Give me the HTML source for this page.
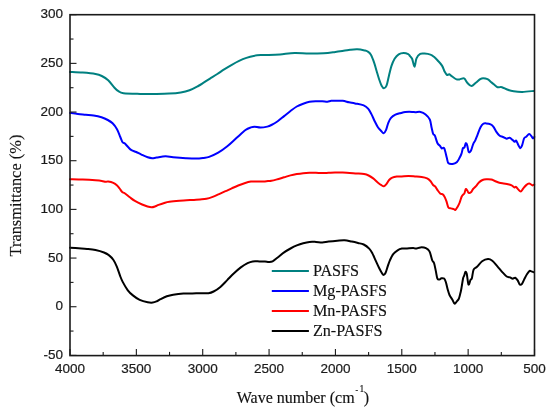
<!DOCTYPE html>
<html><head><meta charset="utf-8"><style>
html,body{margin:0;padding:0;background:#fff;}
body{width:550px;height:412px;overflow:hidden;}
svg{display:block;}
.sans{font-family:"Liberation Sans",Arial,sans-serif;font-size:13.5px;fill:#1a1a1a;stroke:#1a1a1a;stroke-width:0.2px;}
.serif{font-family:"Liberation Serif","Times New Roman",serif;fill:#111;}
text.serif,.serif text{stroke:#111;stroke-width:0.15px;}
</style></head><body>
<svg width="550" height="412" viewBox="0 0 550 412">
<g fill="none" stroke-width="2" stroke-linejoin="round" stroke-linecap="round">
<path d="M70.00 72.00 C72.12 72.10 78.45 72.27 82.70 72.60 C86.95 72.93 92.32 73.43 95.50 74.00 C98.68 74.57 99.68 74.97 101.80 76.00 C103.92 77.03 106.08 78.25 108.20 80.20 C110.32 82.15 112.80 85.87 114.50 87.70 C116.20 89.53 116.90 90.27 118.40 91.20 C119.90 92.13 119.90 92.85 123.50 93.30 C127.10 93.75 134.82 93.80 140.00 93.90 C145.18 94.00 149.75 93.95 154.60 93.90 C159.45 93.85 164.73 93.83 169.10 93.60 C173.47 93.37 177.40 93.05 180.80 92.50 C184.20 91.95 186.60 91.38 189.50 90.30 C192.40 89.22 195.78 87.32 198.20 86.00 C200.62 84.68 202.03 83.63 204.00 82.40 C205.97 81.17 207.78 80.00 210.00 78.60 C212.22 77.20 214.87 75.57 217.30 74.00 C219.73 72.43 222.18 70.73 224.60 69.20 C227.02 67.67 229.38 66.18 231.80 64.80 C234.22 63.42 236.67 62.05 239.10 60.90 C241.53 59.75 243.97 58.73 246.40 57.90 C248.83 57.07 251.28 56.37 253.70 55.90 C256.12 55.43 258.48 55.25 260.90 55.10 C263.32 54.95 265.02 55.12 268.20 55.00 C271.38 54.88 275.60 54.73 280.00 54.40 C284.40 54.07 289.75 53.13 294.60 53.00 C299.45 52.87 304.25 53.57 309.10 53.60 C313.95 53.63 319.33 53.48 323.70 53.20 C328.07 52.92 330.92 52.47 335.30 51.90 C339.68 51.33 346.33 50.23 350.00 49.80 C353.67 49.37 354.87 49.20 357.30 49.30 C359.73 49.40 362.88 50.03 364.60 50.40 C366.32 50.77 366.55 50.77 367.60 51.50 C368.65 52.23 369.80 52.92 370.90 54.80 C372.00 56.68 373.25 60.10 374.20 62.80 C375.15 65.50 375.78 68.27 376.60 71.00 C377.42 73.73 378.27 76.75 379.10 79.20 C379.93 81.65 380.78 84.20 381.60 85.70 C382.42 87.20 383.18 88.20 384.00 88.20 C384.82 88.20 385.68 87.75 386.50 85.70 C387.32 83.65 388.08 79.17 388.90 75.90 C389.72 72.63 390.45 68.97 391.40 66.10 C392.35 63.23 393.38 60.67 394.60 58.70 C395.82 56.73 397.20 55.25 398.70 54.30 C400.20 53.35 402.02 53.03 403.60 53.00 C405.18 52.97 407.13 53.58 408.20 54.10 C409.27 54.62 409.33 55.28 410.00 56.10 C410.67 56.92 411.45 57.22 412.20 59.00 C412.95 60.78 413.78 66.92 414.50 66.80 C415.22 66.68 415.55 60.45 416.50 58.30 C417.45 56.15 418.85 54.68 420.20 53.90 C421.55 53.12 422.90 53.48 424.60 53.60 C426.30 53.72 428.83 54.07 430.40 54.60 C431.97 55.13 432.78 55.82 434.00 56.80 C435.22 57.78 436.37 59.03 437.70 60.50 C439.03 61.97 440.80 63.67 442.00 65.60 C443.20 67.53 444.05 70.53 444.90 72.10 C445.75 73.67 446.37 74.63 447.10 75.00 C447.83 75.37 448.45 74.05 449.30 74.30 C450.15 74.55 450.98 75.65 452.20 76.50 C453.42 77.35 455.38 78.92 456.60 79.40 C457.82 79.88 458.53 79.55 459.50 79.40 C460.47 79.25 461.55 78.62 462.40 78.50 C463.25 78.38 463.75 77.95 464.60 78.70 C465.45 79.45 466.35 81.78 467.50 83.00 C468.65 84.22 470.12 86.03 471.50 86.00 C472.88 85.97 474.35 83.93 475.80 82.80 C477.25 81.67 478.98 79.97 480.20 79.20 C481.42 78.43 481.88 78.20 483.10 78.20 C484.32 78.20 486.05 78.47 487.50 79.20 C488.95 79.93 490.23 81.32 491.80 82.60 C493.37 83.88 495.68 86.13 496.90 86.90 C498.12 87.67 498.25 87.15 499.10 87.20 C499.95 87.25 500.55 86.77 502.00 87.20 C503.45 87.63 505.85 89.12 507.80 89.80 C509.75 90.48 511.27 90.95 513.70 91.30 C516.13 91.65 519.02 91.97 522.40 91.90 C525.78 91.83 532.07 91.07 534.00 90.90" stroke="#008080"/>
<path d="M70.00 112.90 C71.32 113.07 75.27 113.60 77.90 113.90 C80.53 114.20 83.18 114.43 85.80 114.70 C88.42 114.97 90.98 115.07 93.60 115.50 C96.22 115.93 99.13 116.55 101.50 117.30 C103.87 118.05 105.95 119.00 107.80 120.00 C109.65 121.00 111.07 121.77 112.60 123.30 C114.13 124.83 115.72 126.92 117.00 129.20 C118.28 131.48 119.37 134.82 120.30 137.00 C121.23 139.18 121.83 141.20 122.60 142.30 C123.37 143.40 123.95 142.77 124.90 143.60 C125.85 144.43 127.20 146.22 128.30 147.30 C129.40 148.38 130.18 149.32 131.50 150.10 C132.82 150.88 134.55 151.25 136.20 152.00 C137.85 152.75 139.48 153.72 141.40 154.60 C143.32 155.48 145.90 156.70 147.70 157.30 C149.50 157.90 150.72 158.17 152.20 158.20 C153.68 158.23 154.38 157.82 156.60 157.50 C158.82 157.18 162.73 156.35 165.50 156.30 C168.27 156.25 169.80 156.88 173.20 157.20 C176.60 157.52 182.08 157.97 185.90 158.20 C189.72 158.43 193.13 158.65 196.10 158.60 C199.07 158.55 201.53 158.18 203.70 157.90 C205.87 157.62 206.68 157.77 209.10 156.90 C211.52 156.03 215.17 154.47 218.20 152.70 C221.23 150.93 224.27 148.73 227.30 146.30 C230.33 143.87 233.37 140.82 236.40 138.10 C239.43 135.38 243.08 131.78 245.50 130.00 C247.92 128.22 249.40 127.95 250.90 127.40 C252.40 126.85 252.90 126.67 254.50 126.70 C256.10 126.73 258.37 127.62 260.50 127.60 C262.63 127.58 265.48 127.03 267.30 126.60 C269.12 126.17 269.67 125.90 271.40 125.00 C273.13 124.10 275.58 122.68 277.70 121.20 C279.82 119.72 281.97 117.80 284.10 116.10 C286.23 114.40 288.38 112.60 290.50 111.00 C292.62 109.40 294.68 107.72 296.80 106.50 C298.92 105.28 301.08 104.48 303.20 103.70 C305.32 102.92 307.38 102.22 309.50 101.80 C311.62 101.38 313.77 101.30 315.90 101.20 C318.03 101.10 320.38 101.12 322.30 101.20 C324.22 101.28 325.92 101.77 327.40 101.70 C328.88 101.63 329.70 100.95 331.20 100.80 C332.70 100.65 334.48 100.80 336.40 100.80 C338.32 100.80 340.58 100.55 342.70 100.80 C344.82 101.05 347.05 101.87 349.10 102.30 C351.15 102.73 352.57 102.88 355.00 103.40 C357.43 103.92 361.52 104.53 363.70 105.40 C365.88 106.27 366.82 107.15 368.10 108.60 C369.38 110.05 370.30 112.00 371.40 114.10 C372.50 116.20 373.62 119.02 374.70 121.20 C375.78 123.38 376.82 125.57 377.90 127.20 C378.98 128.83 380.25 129.98 381.20 131.00 C382.15 132.02 382.78 133.48 383.60 133.30 C384.42 133.12 385.32 131.65 386.10 129.90 C386.88 128.15 387.48 124.80 388.30 122.80 C389.12 120.80 389.82 119.25 391.00 117.90 C392.18 116.55 393.75 115.52 395.40 114.70 C397.05 113.88 399.27 113.45 400.90 113.00 C402.53 112.55 403.35 112.18 405.20 112.00 C407.05 111.82 410.30 111.87 412.00 111.90 C413.70 111.93 413.98 112.20 415.40 112.20 C416.82 112.20 418.80 111.53 420.50 111.90 C422.20 112.27 424.05 113.13 425.60 114.40 C427.15 115.67 428.82 117.37 429.80 119.50 C430.78 121.63 430.93 124.78 431.50 127.20 C432.07 129.62 432.63 132.58 433.20 134.00 C433.77 135.42 434.18 134.15 434.90 135.70 C435.62 137.25 436.65 141.60 437.50 143.30 C438.35 145.00 439.30 145.05 440.00 145.90 C440.70 146.75 440.98 147.98 441.70 148.40 C442.42 148.82 443.45 146.83 444.30 148.40 C445.15 149.97 446.10 155.33 446.80 157.80 C447.50 160.27 447.37 162.22 448.50 163.20 C449.63 164.18 452.18 163.90 453.60 163.70 C455.02 163.50 456.00 162.98 457.00 162.00 C458.00 161.02 458.85 159.18 459.60 157.80 C460.35 156.42 460.95 155.30 461.50 153.70 C462.05 152.10 462.42 149.22 462.90 148.20 C463.38 147.18 463.92 148.43 464.40 147.60 C464.88 146.77 465.32 143.52 465.80 143.20 C466.28 142.88 466.82 144.23 467.30 145.70 C467.78 147.17 468.10 151.15 468.70 152.00 C469.30 152.85 470.17 152.08 470.90 150.80 C471.63 149.52 472.37 146.05 473.10 144.30 C473.83 142.55 474.57 141.88 475.30 140.30 C476.03 138.72 476.65 136.93 477.50 134.80 C478.35 132.67 479.43 129.33 480.40 127.50 C481.37 125.67 482.33 124.48 483.30 123.80 C484.27 123.12 484.98 123.32 486.20 123.40 C487.42 123.48 489.38 123.73 490.60 124.30 C491.82 124.87 492.53 125.53 493.50 126.80 C494.47 128.07 495.42 130.45 496.40 131.90 C497.38 133.35 498.30 134.65 499.40 135.50 C500.50 136.35 501.80 136.47 503.00 137.00 C504.20 137.53 505.50 138.58 506.60 138.70 C507.70 138.82 508.62 137.50 509.60 137.70 C510.58 137.90 511.65 139.22 512.50 139.90 C513.35 140.58 514.10 141.68 514.70 141.80 C515.30 141.92 515.50 140.07 516.10 140.60 C516.70 141.13 517.62 143.73 518.30 145.00 C518.98 146.27 519.58 148.08 520.20 148.20 C520.82 148.32 521.35 147.33 522.00 145.70 C522.65 144.07 523.38 139.90 524.10 138.40 C524.82 136.90 525.45 137.42 526.30 136.70 C527.15 135.98 528.35 134.18 529.20 134.10 C530.05 134.02 530.78 135.48 531.40 136.20 C532.02 136.92 532.42 138.27 532.90 138.40 C533.38 138.53 534.07 137.23 534.30 137.00" stroke="#0000ff"/>
<path d="M70.00 179.30 C72.12 179.35 78.45 179.43 82.70 179.60 C86.95 179.77 92.32 180.08 95.50 180.30 C98.68 180.52 100.12 180.65 101.80 180.90 C103.48 181.15 104.53 181.70 105.60 181.80 C106.67 181.90 106.92 181.33 108.20 181.50 C109.48 181.67 111.82 182.15 113.30 182.80 C114.78 183.45 116.05 184.45 117.10 185.40 C118.15 186.35 118.75 187.40 119.60 188.50 C120.45 189.60 121.35 191.20 122.20 192.00 C123.05 192.80 123.43 192.42 124.70 193.30 C125.97 194.18 128.10 196.03 129.80 197.30 C131.50 198.57 132.85 199.70 134.90 200.90 C136.95 202.10 140.00 203.57 142.10 204.50 C144.20 205.43 145.92 206.03 147.50 206.50 C149.08 206.97 150.27 207.33 151.60 207.30 C152.93 207.27 154.33 206.70 155.50 206.30 C156.67 205.90 157.02 205.50 158.60 204.90 C160.18 204.30 163.20 203.22 165.00 202.70 C166.80 202.18 166.98 202.12 169.40 201.80 C171.82 201.48 175.68 201.12 179.50 200.80 C183.32 200.48 188.88 200.13 192.30 199.90 C195.72 199.67 197.65 199.58 200.00 199.40 C202.35 199.22 204.28 199.22 206.40 198.80 C208.52 198.38 210.58 197.68 212.70 196.90 C214.82 196.12 216.97 195.05 219.10 194.10 C221.23 193.15 223.38 192.17 225.50 191.20 C227.62 190.23 229.68 189.25 231.80 188.30 C233.92 187.35 236.08 186.35 238.20 185.50 C240.32 184.65 242.38 183.85 244.50 183.20 C246.62 182.55 248.77 181.90 250.90 181.60 C253.03 181.30 255.18 181.40 257.30 181.40 C259.42 181.40 261.82 181.67 263.60 181.60 C265.38 181.53 266.70 181.13 268.00 181.00 C269.30 180.87 269.78 181.10 271.40 180.80 C273.02 180.50 275.58 179.78 277.70 179.20 C279.82 178.62 281.97 177.93 284.10 177.30 C286.23 176.67 288.38 175.93 290.50 175.40 C292.62 174.87 294.68 174.47 296.80 174.10 C298.92 173.73 301.08 173.42 303.20 173.20 C305.32 172.98 307.38 172.87 309.50 172.80 C311.62 172.73 313.77 172.75 315.90 172.80 C318.03 172.85 320.18 173.10 322.30 173.10 C324.42 173.10 326.48 172.90 328.60 172.80 C330.72 172.70 332.65 172.55 335.00 172.50 C337.35 172.45 339.28 172.35 342.70 172.50 C346.12 172.65 351.93 173.13 355.50 173.40 C359.07 173.67 361.92 173.75 364.10 174.10 C366.28 174.45 367.08 174.78 368.60 175.50 C370.12 176.22 371.68 177.25 373.20 178.40 C374.72 179.55 376.33 181.27 377.70 182.40 C379.07 183.53 380.37 184.57 381.40 185.20 C382.43 185.83 383.07 186.38 383.90 186.20 C384.73 186.02 385.53 185.13 386.40 184.10 C387.27 183.07 388.12 181.07 389.10 180.00 C390.08 178.93 391.02 178.27 392.30 177.70 C393.58 177.13 395.23 176.82 396.80 176.60 C398.37 176.38 399.77 176.50 401.70 176.40 C403.63 176.30 406.18 176.00 408.40 176.00 C410.62 176.00 412.78 176.23 415.00 176.40 C417.22 176.57 419.68 176.67 421.70 177.00 C423.72 177.33 425.65 177.73 427.10 178.40 C428.55 179.07 429.40 179.90 430.40 181.00 C431.40 182.10 432.32 184.10 433.10 185.00 C433.88 185.90 434.33 185.50 435.10 186.40 C435.87 187.30 436.82 189.18 437.70 190.40 C438.58 191.62 439.62 193.08 440.40 193.70 C441.18 194.32 441.73 193.65 442.40 194.10 C443.07 194.55 443.73 195.23 444.40 196.40 C445.07 197.57 445.73 199.25 446.40 201.10 C447.07 202.95 447.62 206.28 448.40 207.50 C449.18 208.72 450.20 208.13 451.10 208.40 C452.00 208.67 453.08 208.87 453.80 209.10 C454.52 209.33 454.73 210.25 455.40 209.80 C456.07 209.35 457.12 207.53 457.80 206.40 C458.48 205.27 458.88 204.57 459.50 203.00 C460.12 201.43 460.93 198.37 461.50 197.00 C462.07 195.63 462.42 195.40 462.90 194.80 C463.38 194.20 463.92 194.37 464.40 193.40 C464.88 192.43 465.32 189.48 465.80 189.00 C466.28 188.52 466.82 189.85 467.30 190.50 C467.78 191.15 468.10 192.60 468.70 192.90 C469.30 193.20 470.17 192.95 470.90 192.30 C471.63 191.65 472.25 190.03 473.10 189.00 C473.95 187.97 475.03 187.18 476.00 186.10 C476.97 185.02 477.82 183.52 478.90 182.50 C479.98 181.48 481.28 180.53 482.50 180.00 C483.72 179.47 484.73 179.38 486.20 179.30 C487.67 179.22 489.85 179.22 491.30 179.50 C492.75 179.78 493.57 180.47 494.90 181.00 C496.23 181.53 497.85 182.28 499.30 182.70 C500.75 183.12 502.15 183.25 503.60 183.50 C505.05 183.75 506.67 183.88 508.00 184.20 C509.33 184.52 510.52 184.85 511.60 185.40 C512.68 185.95 513.77 187.27 514.50 187.50 C515.23 187.73 515.38 186.48 516.00 186.80 C516.62 187.12 517.40 188.62 518.20 189.40 C519.00 190.18 519.95 191.68 520.80 191.50 C521.65 191.32 522.40 189.37 523.30 188.30 C524.20 187.23 525.23 185.88 526.20 185.10 C527.17 184.32 528.25 183.68 529.10 183.60 C529.95 183.52 530.70 184.30 531.30 184.60 C531.90 184.90 532.22 185.40 532.70 185.40 C533.18 185.40 533.95 184.73 534.20 184.60" stroke="#ff0000"/>
<path d="M70.00 247.70 C71.42 247.80 75.67 248.10 78.50 248.30 C81.33 248.50 84.17 248.62 87.00 248.90 C89.83 249.18 92.67 249.40 95.50 250.00 C98.33 250.60 101.73 251.60 104.00 252.50 C106.27 253.40 107.55 254.18 109.10 255.40 C110.65 256.62 112.03 257.97 113.30 259.80 C114.57 261.63 115.57 263.73 116.70 266.40 C117.83 269.07 119.10 273.22 120.10 275.80 C121.10 278.38 121.42 279.48 122.70 281.90 C123.98 284.32 126.10 288.05 127.80 290.30 C129.50 292.55 130.92 293.80 132.90 295.40 C134.88 297.00 137.23 298.75 139.70 299.90 C142.17 301.05 145.52 301.85 147.70 302.30 C149.88 302.75 151.32 302.75 152.80 302.60 C154.28 302.45 155.32 301.97 156.60 301.40 C157.88 300.83 158.80 300.05 160.50 299.20 C162.20 298.35 164.68 297.05 166.80 296.30 C168.92 295.55 170.43 295.17 173.20 294.70 C175.97 294.23 180.22 293.70 183.40 293.50 C186.58 293.30 189.53 293.55 192.30 293.50 C195.07 293.45 197.30 293.25 200.00 293.20 C202.70 293.15 206.23 293.48 208.50 293.20 C210.77 292.92 211.62 292.55 213.60 291.50 C215.58 290.45 218.13 288.80 220.40 286.90 C222.67 285.00 224.93 282.37 227.20 280.10 C229.47 277.83 231.73 275.42 234.00 273.30 C236.27 271.18 238.53 269.10 240.80 267.40 C243.07 265.70 245.62 264.10 247.60 263.10 C249.58 262.10 250.72 261.68 252.70 261.40 C254.68 261.12 257.45 261.38 259.50 261.40 C261.55 261.42 263.45 261.42 265.00 261.50 C266.55 261.58 267.53 261.93 268.80 261.90 C270.07 261.87 271.12 262.03 272.60 261.30 C274.08 260.57 275.78 258.98 277.70 257.50 C279.62 256.02 281.97 253.90 284.10 252.40 C286.23 250.90 288.38 249.67 290.50 248.50 C292.62 247.33 294.68 246.28 296.80 245.40 C298.92 244.52 301.08 243.78 303.20 243.20 C305.32 242.62 307.38 242.12 309.50 241.90 C311.62 241.68 313.77 241.82 315.90 241.90 C318.03 241.98 320.18 242.47 322.30 242.40 C324.42 242.33 326.10 241.78 328.60 241.50 C331.10 241.22 334.63 240.90 337.30 240.70 C339.97 240.50 342.18 240.15 344.60 240.30 C347.02 240.45 349.57 241.15 351.80 241.60 C354.03 242.05 356.02 242.52 358.00 243.00 C359.98 243.48 361.83 243.57 363.70 244.50 C365.57 245.43 367.73 247.08 369.20 248.60 C370.67 250.12 371.42 251.58 372.50 253.60 C373.58 255.62 374.62 258.33 375.70 260.70 C376.78 263.07 378.00 265.80 379.00 267.80 C380.00 269.80 380.93 271.52 381.70 272.70 C382.47 273.88 382.95 274.90 383.60 274.90 C384.25 274.90 384.90 274.17 385.60 272.70 C386.30 271.23 387.07 268.20 387.80 266.10 C388.53 264.00 389.10 262.10 390.00 260.10 C390.90 258.10 391.93 255.73 393.20 254.10 C394.47 252.47 396.15 251.22 397.60 250.30 C399.05 249.38 400.52 248.88 401.90 248.60 C403.28 248.32 404.02 248.68 405.90 248.60 C407.78 248.52 411.53 248.10 413.20 248.10 C414.87 248.10 414.68 248.72 415.90 248.60 C417.12 248.48 418.83 247.48 420.50 247.40 C422.17 247.32 424.40 247.43 425.90 248.10 C427.40 248.77 428.43 249.33 429.50 251.40 C430.57 253.47 431.53 258.53 432.30 260.50 C433.07 262.47 433.50 261.38 434.10 263.20 C434.70 265.02 435.35 268.83 435.90 271.40 C436.45 273.97 436.80 277.25 437.40 278.60 C438.00 279.95 438.83 279.55 439.50 279.50 C440.17 279.45 440.63 278.45 441.40 278.30 C442.17 278.15 443.35 277.93 444.10 278.60 C444.85 279.27 445.30 280.48 445.90 282.30 C446.50 284.12 447.10 287.38 447.70 289.50 C448.30 291.62 448.73 293.33 449.50 295.00 C450.27 296.67 451.45 298.05 452.30 299.50 C453.15 300.95 453.85 303.38 454.60 303.70 C455.35 304.02 456.07 302.30 456.80 301.40 C457.53 300.50 458.33 299.97 459.00 298.30 C459.67 296.63 460.35 293.33 460.80 291.40 C461.25 289.47 461.32 288.90 461.70 286.70 C462.08 284.50 462.68 280.03 463.10 278.20 C463.52 276.37 463.82 276.75 464.20 275.70 C464.58 274.65 464.97 272.18 465.40 271.90 C465.83 271.62 466.28 271.90 466.80 274.00 C467.32 276.10 467.88 283.52 468.50 284.50 C469.12 285.48 469.93 280.95 470.50 279.90 C471.07 278.85 471.38 279.90 471.90 278.20 C472.42 276.50 472.75 271.60 473.60 269.70 C474.45 267.80 475.58 268.22 477.00 266.80 C478.42 265.38 480.27 262.50 482.10 261.20 C483.93 259.90 486.30 259.08 488.00 259.00 C489.70 258.92 490.73 259.48 492.30 260.70 C493.87 261.92 495.70 264.37 497.40 266.30 C499.10 268.23 500.95 270.60 502.50 272.30 C504.05 274.00 505.43 275.65 506.70 276.50 C507.97 277.35 509.10 277.03 510.10 277.40 C511.10 277.77 511.85 278.65 512.70 278.70 C513.55 278.75 514.37 277.42 515.20 277.70 C516.03 277.98 516.93 279.27 517.70 280.40 C518.47 281.53 519.08 283.93 519.80 284.50 C520.52 285.07 521.22 284.77 522.00 283.80 C522.78 282.83 523.65 280.33 524.50 278.70 C525.35 277.07 526.25 275.30 527.10 274.00 C527.95 272.70 528.90 271.33 529.60 270.90 C530.30 270.47 530.58 271.17 531.30 271.40 C532.02 271.63 533.47 272.15 533.90 272.30" stroke="#000000"/>
</g>
<g stroke="#1a1a1a" stroke-width="1.1">
<line x1="70.00" y1="355.40" x2="70.00" y2="348.90"/>
<line x1="103.18" y1="355.40" x2="103.18" y2="351.90"/>
<line x1="136.36" y1="355.40" x2="136.36" y2="348.90"/>
<line x1="169.54" y1="355.40" x2="169.54" y2="351.90"/>
<line x1="202.71" y1="355.40" x2="202.71" y2="348.90"/>
<line x1="235.89" y1="355.40" x2="235.89" y2="351.90"/>
<line x1="269.07" y1="355.40" x2="269.07" y2="348.90"/>
<line x1="302.25" y1="355.40" x2="302.25" y2="351.90"/>
<line x1="335.43" y1="355.40" x2="335.43" y2="348.90"/>
<line x1="368.61" y1="355.40" x2="368.61" y2="351.90"/>
<line x1="401.79" y1="355.40" x2="401.79" y2="348.90"/>
<line x1="434.96" y1="355.40" x2="434.96" y2="351.90"/>
<line x1="468.14" y1="355.40" x2="468.14" y2="348.90"/>
<line x1="501.32" y1="355.40" x2="501.32" y2="351.90"/>
<line x1="534.50" y1="355.40" x2="534.50" y2="348.90"/>
<line x1="70.00" y1="355.40" x2="76.50" y2="355.40"/>
<line x1="70.00" y1="331.06" x2="73.50" y2="331.06"/>
<line x1="70.00" y1="306.73" x2="76.50" y2="306.73"/>
<line x1="70.00" y1="282.39" x2="73.50" y2="282.39"/>
<line x1="70.00" y1="258.06" x2="76.50" y2="258.06"/>
<line x1="70.00" y1="233.72" x2="73.50" y2="233.72"/>
<line x1="70.00" y1="209.39" x2="76.50" y2="209.39"/>
<line x1="70.00" y1="185.05" x2="73.50" y2="185.05"/>
<line x1="70.00" y1="160.71" x2="76.50" y2="160.71"/>
<line x1="70.00" y1="136.38" x2="73.50" y2="136.38"/>
<line x1="70.00" y1="112.04" x2="76.50" y2="112.04"/>
<line x1="70.00" y1="87.71" x2="73.50" y2="87.71"/>
<line x1="70.00" y1="63.37" x2="76.50" y2="63.37"/>
<line x1="70.00" y1="39.04" x2="73.50" y2="39.04"/>
<line x1="70.00" y1="14.70" x2="76.50" y2="14.70"/>
</g>
<rect x="70.00" y="14.70" width="464.50" height="340.90" fill="none" stroke="#1a1a1a" stroke-width="1.60"/>
<g class="sans">
<text x="70.00" y="373.3" text-anchor="middle">4000</text>
<text x="136.36" y="373.3" text-anchor="middle">3500</text>
<text x="202.71" y="373.3" text-anchor="middle">3000</text>
<text x="269.07" y="373.3" text-anchor="middle">2500</text>
<text x="335.43" y="373.3" text-anchor="middle">2000</text>
<text x="401.79" y="373.3" text-anchor="middle">1500</text>
<text x="468.14" y="373.3" text-anchor="middle">1000</text>
<text x="534.50" y="373.3" text-anchor="middle">500</text>
<text x="63.0" y="359.00" text-anchor="end">-50</text>
<text x="63.0" y="310.33" text-anchor="end">0</text>
<text x="63.0" y="261.66" text-anchor="end">50</text>
<text x="63.0" y="212.99" text-anchor="end">100</text>
<text x="63.0" y="164.31" text-anchor="end">150</text>
<text x="63.0" y="115.64" text-anchor="end">200</text>
<text x="63.0" y="66.97" text-anchor="end">250</text>
<text x="63.0" y="18.30" text-anchor="end">300</text>
</g>
<g class="serif" font-size="15.5px">
<g stroke-width="2" fill="none"><line x1="271.8" y1="271.0" x2="308.9" y2="271.0" stroke="#008080"/>
<line x1="271.8" y1="291.0" x2="308.9" y2="291.0" stroke="#0000ff"/>
<line x1="271.8" y1="310.9" x2="308.9" y2="310.9" stroke="#ff0000"/>
<line x1="271.8" y1="330.9" x2="308.9" y2="330.9" stroke="#000000"/></g>
</g>
<g class="serif" font-size="16.2px">
<text x="312.9" y="276.4">PASFS</text>
<text x="312.9" y="296.4">Mg-PASFS</text>
<text x="312.9" y="316.3">Mn-PASFS</text>
<text x="312.9" y="336.3">Zn-PASFS</text>
</g>
<text class="serif" font-size="16px" x="236.8" y="402.5">Wave number (cm<tspan font-size="7.5px" dy="-9.8" dx="1.0">-</tspan><tspan font-size="9.5px" dy="-0.4" dx="1.4">1</tspan><tspan dy="10.2" dx="-0.6">)</tspan></text>
<text class="serif" font-size="16.4px" transform="translate(21.3,256.5) rotate(-90)">Transmittance (%)</text>
</svg>
</body></html>
